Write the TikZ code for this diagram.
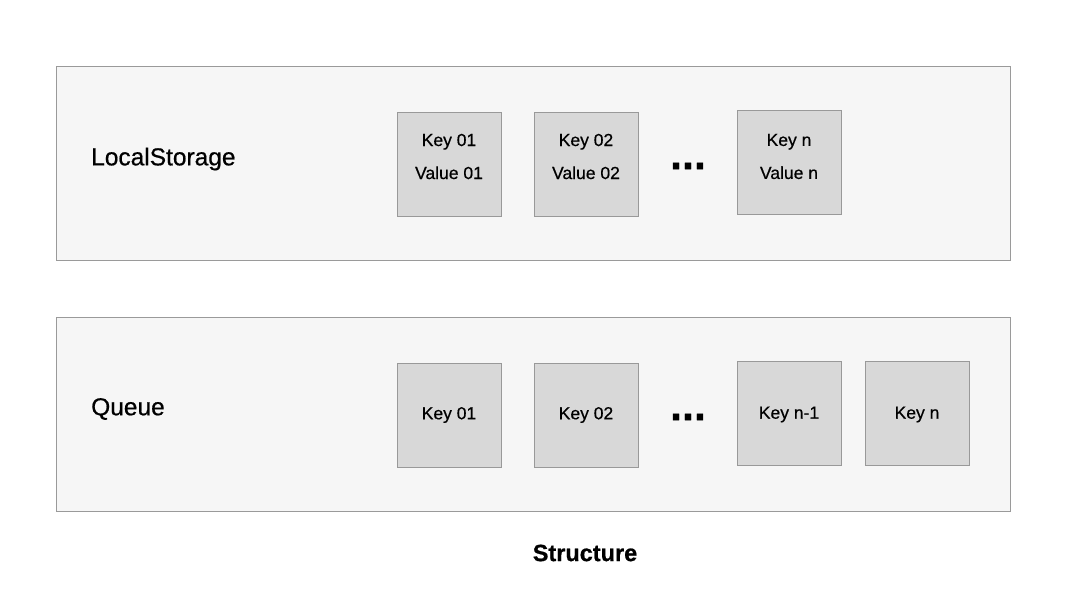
\documentclass[tikz,border=0pt]{standalone}
\usepackage{fontspec}
\setmainfont{Liberation Sans}[FakeBold=0.6]
\definecolor{outerfill}{HTML}{F6F6F6}
\definecolor{outerline}{HTML}{9A9A9A}
\definecolor{cellfill}{HTML}{D8D8D8}
\definecolor{cellline}{HTML}{999999}
\begin{document}
\begin{tikzpicture}[x=1pt,y=-1pt,
  outerbox/.style={draw=outerline, fill=outerfill, line width=1pt, minimum width=954pt, minimum height=194pt, inner sep=0pt},
  cell/.style={draw=cellline, fill=cellfill, line width=1pt, minimum width=104pt, minimum height=104pt, inner sep=0pt},
  celltext/.style={font=\fontsize{17.5}{33}\selectfont, align=center, inner sep=0pt},
  kvlabel/.style 2 args={label={[celltext, yshift=#1]center:#2}},
  title/.style={font=\fontsize{24.5}{28}\selectfont, anchor=west, inner sep=0pt},
  dots/.style={font=\fontsize{43}{43}\selectfont\bfseries, inner sep=0pt},
  caption/.style={font=\fontsize{23.5}{28}\selectfont\bfseries, inner sep=0pt}]
\useasboundingbox (0,0) rectangle (1070,614);
\fill[white] (0,0) rectangle (1070,614);
% LocalStorage
\node[outerbox] (ls) at (533,163) {};
\node[title] (lstitle) at (91,159) {LocalStorage};
\node[cell, kvlabel={7.5pt}{Key 01\\Value 01}] (k1) at (449,164) {};
\node[cell, kvlabel={7.5pt}{Key 02\\Value 02}] (k2) at (586,164) {};
\node[dots] (lsdots) at (688,166) {...};
\node[cell, kvlabel={5.5pt}{Key n\\Value n}] (kn) at (789,162) {};
% Queue
\node[outerbox] (q) at (533,414) {};
\node[title] (qtitle) at (91,409) {Queue};
\node[cell, kvlabel={0pt}{Key 01}] (q1) at (449,415) {};
\node[cell, kvlabel={0pt}{Key 02}] (q2) at (586,415) {};
\node[dots] (qdots) at (688,417) {...};
\node[cell, kvlabel={-1.5pt}{Key n-1}] (qn1) at (789,413) {};
\node[cell, kvlabel={-1.5pt}{Key n}] (qn) at (917,413) {};
% caption
\node[caption] (cap) at (585,553) {Structure};
\end{tikzpicture}
\end{document}
